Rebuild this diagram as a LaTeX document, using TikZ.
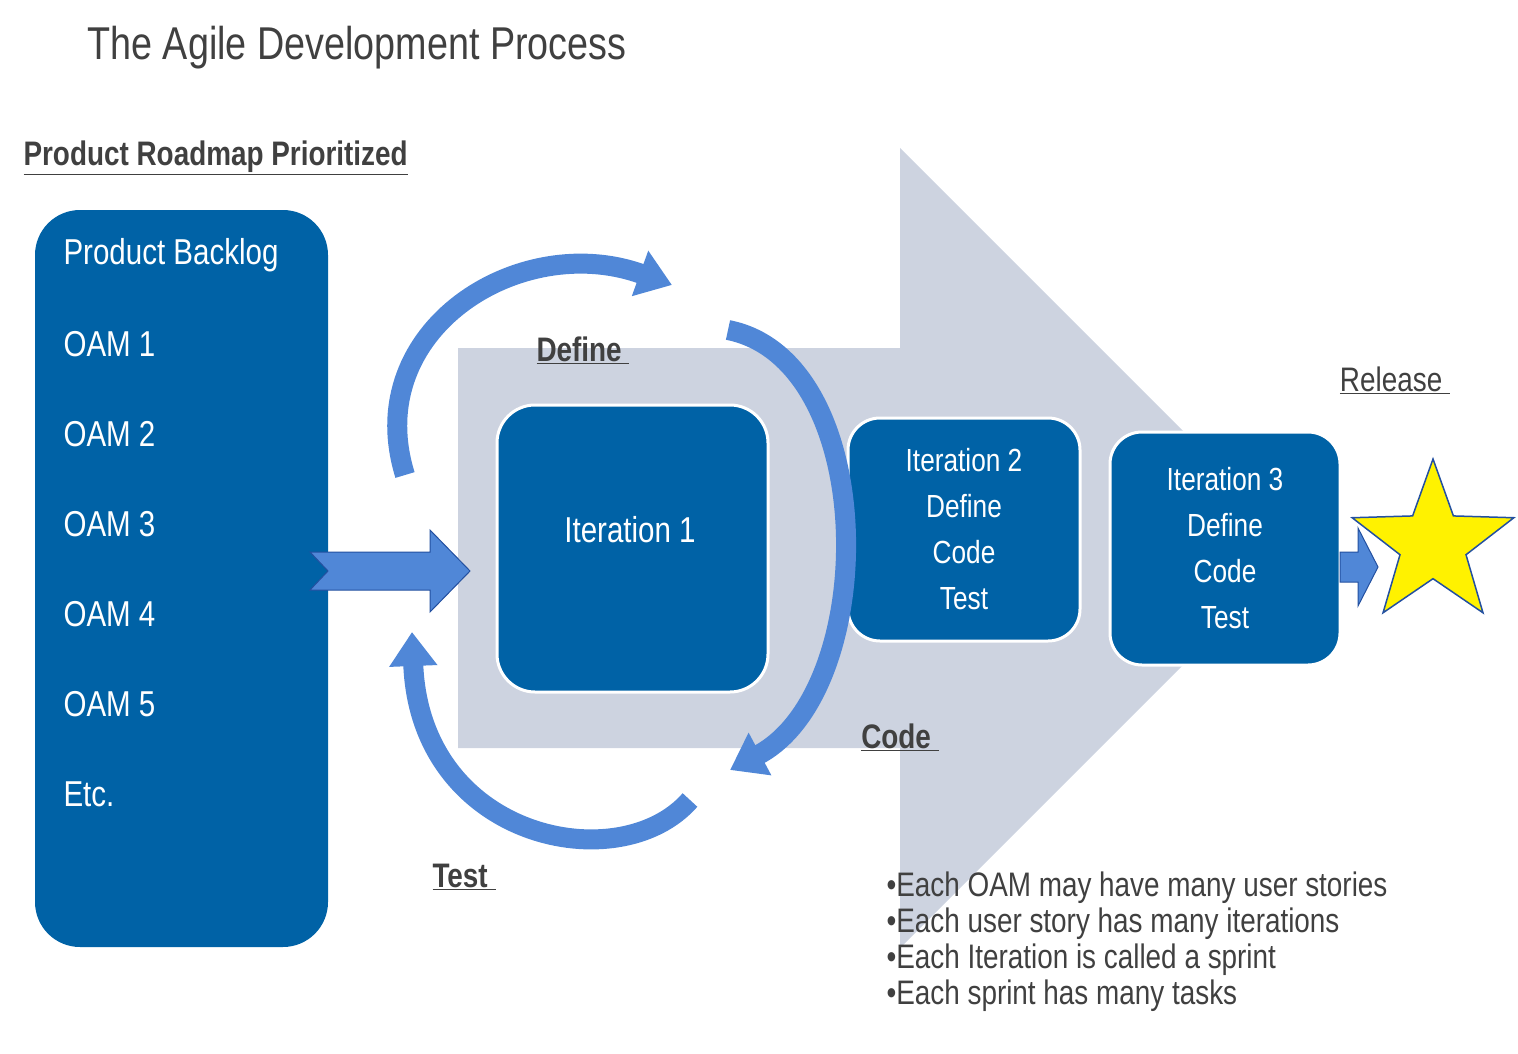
\documentclass[tikz,border=0pt]{standalone}
\usepackage{fontspec}
\setmainfont[FakeStretch=0.82]{Liberation Sans}
\usetikzlibrary{arrows.meta,shapes.geometric}
\definecolor{bl}{RGB}{0,98,166}
\definecolor{gr}{RGB}{205,211,224}
\definecolor{tx}{RGB}{64,64,64}
\definecolor{ab}{RGB}{80,135,215}
\definecolor{abd}{RGB}{35,80,160}
\newcommand{\fs}[1]{\fontsize{#1}{#1}\selectfont}
\begin{document}
\begin{tikzpicture}[x=1pt,y=-1pt,
  box/.style={draw=white,line width=3pt,fill=bl,rounded corners=38pt,text=white},
  wt/.style={text=white,anchor=west,font=\fs{36}},
  lab/.style={text=tx,font=\fs{34}\bfseries},
  carrow/.style={line width=20pt,draw=ab,-{Triangle[width=46pt,length=34pt]}}]
\useasboundingbox (0,0) rectangle (1518,1054);
\node[anchor=west,text=tx,font=\fs{46}] (title) at (84,48) {The Agile Development Process};
\node[anchor=west,lab] (road) at (20,158) {\underline{Product Roadmap Prioritized}};
% big gray arrow
\fill[gr] (458,348) -- (900,348) -- (900,148) -- (1300,548) -- (900,948) -- (900,748) -- (458,748) -- cycle;
% backlog
\node[box,draw=none,minimum width=293pt,minimum height=737pt,rounded corners=45pt] (bk) at (181.5,578.5) {};
\node[wt] (pb) at (60,255) {Product Backlog};
\node[wt] (o1) at (60,344) {OAM 1};
\node[wt] (o2) at (60,434) {OAM 2};
\node[wt] (o3) at (60,524) {OAM 3};
\node[wt] (o4) at (60,614) {OAM 4};
\node[wt] (o5) at (60,704) {OAM 5};
\node[wt] (etc) at (60,794) {Etc.};
% iterations
\node[box,minimum width=271pt,minimum height=287pt,font=\fs{36}] (it1) at (632.5,548.5) {};
\node[text=white,font=\fs{36}] at (630,530) {Iteration 1};
\node[box,minimum width=232pt,minimum height=223pt,rounded corners=32pt,font=\fs{32},align=center] (it2) at (964,529.5) {Iteration 2\\[14pt]Define\\[14pt]Code\\[14pt]Test};
\node[box,minimum width=230pt,minimum height=233pt,rounded corners=32pt,font=\fs{32},align=center] (it3) at (1225,548.5) {Iteration 3\\[14pt]Define\\[14pt]Code\\[14pt]Test};
% block arrows
\coordinate (a0) at (310,571);
\fill[ab,draw=abd,line width=1pt] (310,552) -- (430,552) -- (430,530) -- (470,571) -- (430,612) -- (430,590) -- (310,590) -- (328,571) -- cycle;
\fill[ab,draw=abd,line width=1pt] (1340,552) -- (1358,552) -- (1358,528) -- (1378,567) -- (1358,606) -- (1358,582) -- (1340,582) -- cycle;
% star
\node[star,star points=5,star point ratio=2.45,fill=yellow,draw=abd,line width=1.5pt,minimum size=170pt,inner sep=0pt] (st) at (1433,544) {};
% curved arrows
\draw[carrow] (405,475) .. controls (360,330) and (520,230) .. (672,285);
\draw[carrow] (728,330) .. controls (880,360) and (880,690) .. (730,770);
\draw[carrow] (690,800) .. controls (620,880) and (420,840) .. (412,632);
% labels
\node[lab] (def) at (583,350) {\underline{Define\ }};
\node[lab] (code) at (900,737) {\underline{Code\ }};
\node[lab] (test) at (464,877) {\underline{Test\ }};
\node[text=tx,font=\fs{34}] (rel) at (1395,380) {\underline{Release\ }};
\node[anchor=west,text=tx,font=\fs{34},align=left] (bul) at (883,942) {•Each OAM may have many user stories\\[2pt]•Each user story has many iterations\\[2pt]•Each Iteration is called a sprint\\[2pt]•Each sprint has many tasks};
\end{tikzpicture}
\end{document}
